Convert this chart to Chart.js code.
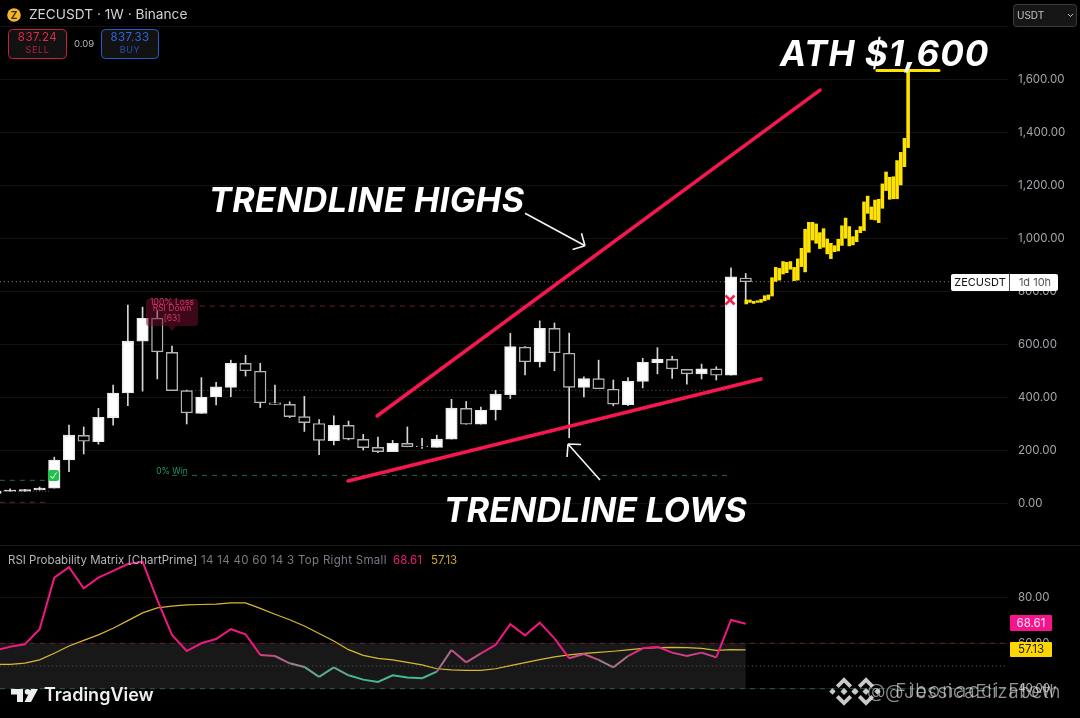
<!DOCTYPE html>
<html>
<head>
<meta charset="utf-8">
<title>ZECUSDT</title>
<script src="https://cdn.jsdelivr.net/npm/chart.js@4"></script>
<style>
  html, body { margin: 0; padding: 0; background: #000; }
  canvas { display: block; }
</style>
</head>
<body>
<canvas id="zecChart" width="1080" height="718"></canvas>
<script>
// weekly candles, first one sits just off the left edge (week -4)
const opens  = [38,47,47,51,58,164,257,233,323,417,613,699,570,426,340,402,438,529,499,380,374,328,302,237,295,242,212,196,227,217,212,243,359,299,353,411,590,534,661,567,438,471,431,373,461,531,544,506,489,508,484,851];
const closes = [47,51,53,58,164,258,235,325,417,613,699,572,426,342,402,440,529,501,380,374,328,305,238,295,243,211,196,227,214,214,243,360,299,352,413,592,535,661,569,438,471,433,375,461,533,545,508,489,508,484,855,837];
const highs  = [47,55,53,62,175,296,289,359,447,749,741,728,594,428,475,457,541,559,529,447,384,404,317,331,311,261,251,238,289,246,258,393,385,364,427,642,592,689,681,643,478,541,466,475,548,588,555,506,526,516,889,868];
const lows   = [36,47,47,51,58,120,187,224,296,369,424,470,426,300,340,372,403,481,362,374,324,272,184,221,240,202,192,196,214,208,212,243,299,299,315,396,485,515,501,248,402,433,369,369,436,489,472,450,470,466,484,755];

// yellow projected path, quarter-week steps
const ghostHighs = [768,768,763,765,770,784,787,852,891,887,913,910,913,891,923,963,1035,1061,1061,1055,1022,1037,998,982,973,997,1048,1077,1045,1007,1031,1045,1138,1160,1119,1145,1148,1206,1251,1231,1233,1294,1325,1378,1628];
const ghostLows  = [753,759,755,759,759,765,770,783,838,843,866,871,884,841,843,894,874,948,994,982,962,967,942,924,950,953,974,1001,972,976,988,1022,1030,1095,1072,1070,1060,1114,1181,1148,1150,1150,1202,1271,1343];

const rsiValues = [56.9,58.5,59.6,66.2,88.9,93.5,84.2,88.9,91.9,94.9,96.0,79.1,63.7,56.6,60.0,61.9,66.2,64.0,54.9,54.4,51.2,49.6,45.2,49.4,45.9,44.0,43.0,45.9,44.9,44.6,47.5,57.1,51.6,55.6,59.3,68.4,63.5,69.1,62.2,53.4,55.3,52.7,49.4,54.4,57.8,58.5,55.9,54.4,55.9,53.8,70.3,68.61];
const rsiAverage = [50.7,50.7,51.3,52.7,55.6,58.8,61.3,63.7,66.6,70.0,73.4,75.6,76.4,76.9,77.1,77.3,77.8,77.8,75.4,72.8,70.4,67.6,64.3,61.0,57.2,54.7,53.4,52.7,51.6,50.5,48.8,48.3,48.1,48.1,48.8,50.2,51.5,52.8,54.0,54.9,55.6,56.0,56.5,57.1,57.8,58.1,58.2,58.1,57.8,56.9,57.2,57.13];

const priceTicks = [0,200,400,600,800,1000,1200,1400,1600,1800];
const rsiTicks = [40,60,80];

const weeks = opens.map((_, i) => i - 4);
const ghostWeeks = ghostHighs.map((_, i) => 47.04 + i / 4);

const highsTrend = [[21.94,330],[52.05,1560]];
const lowsTrend  = [[19.97,85],[48.04,470]];
const athLine    = [[55.92,1634],[60.14,1634]];

const lastPrice = 837;
const RED_DASH = '#6e1d38', GREEN_DASH = '#1f6650', DOTTED = '#5c5c5c';
const PINK = [240,24,128], GREY = [140,140,140], GREEN = [72,184,146];

const fmt = v => v.toLocaleString('en-US', { minimumFractionDigits: 2, maximumFractionDigits: 2 });
const xy = (xs, ys) => xs.map((x, i) => ({ x: x, y: ys[i] }));
const pairs = list => list.map(p => ({ x: p[0], y: p[1] }));

function mix(a, b, t) {
  return 'rgb(' + a.map((c, i) => Math.round(c + (b[i] - c) * t)).join(',') + ')';
}
function rsiColor(v) {
  if (v >= 58) return mix(PINK, PINK, 0);
  if (v >= 50) return mix(GREY, PINK, (v - 50) / 8);
  if (v >= 46) return mix(GREEN, GREY, (v - 46) / 4);
  return mix(GREEN, GREEN, 0);
}

function level(x0, x1, y, color, dash, axis) {
  return {
    type: 'line', data: [{ x: x0, y: y }, { x: x1, y: y }], yAxisID: axis || 'yPrice',
    borderColor: color, borderWidth: 1, borderDash: dash, pointRadius: 0, order: 6
  };
}
function thickLine(list, color, width, order) {
  return {
    type: 'line', data: pairs(list), yAxisID: 'yPrice', borderColor: color,
    borderWidth: width, borderCapStyle: 'round', pointRadius: 0, order: order
  };
}

const datasets = [
  level(-3.7, 61.1, lastPrice, '#8a8a8a', [1, 3]),
  level(9.9, 45.9, 745, RED_DASH, [5, 5]),
  level(8, 45.8, 106, GREEN_DASH, [5, 5]),
  level(8.5, 45.9, 427, DOTTED, [1, 3]),
  level(-3.7, -0.3, 4.5, RED_DASH, [5, 5]),
  level(-3.7, -0.3, 87.5, GREEN_DASH, [5, 5]),
  level(-3.7, -0.3, 46, DOTTED, [1, 2]),
  level(-3.7, 64.83, 60, RED_DASH, [5, 5], 'yRsi'),
  level(-3.7, 64.83, 50, DOTTED, [1, 3], 'yRsi'),
  level(-3.7, 64.83, 40, GREEN_DASH, [5, 5], 'yRsi'),
  {
    // wicks
    type: 'bar', yAxisID: 'yPrice', grouped: false, barThickness: 1, order: 5,
    data: weeks.map((w, i) => ({ x: w, y: [lows[i], highs[i]] })),
    backgroundColor: '#d6d6d6'
  },
  {
    // bodies, white when up and hollow when down
    type: 'bar', yAxisID: 'yPrice', grouped: false, barThickness: 11.5, order: 4,
    data: weeks.map((w, i) => ({ x: w, y: [Math.min(opens[i], closes[i]), Math.max(opens[i], closes[i])] })),
    backgroundColor: weeks.map((_, i) => closes[i] >= opens[i] ? '#ffffff' : '#000000'),
    borderColor: weeks.map((_, i) => closes[i] >= opens[i] ? '#e8e8e8' : '#b4b4b4'),
    borderWidth: 1.4, borderSkipped: false
  },
  {
    type: 'bar', yAxisID: 'yPrice', grouped: false, barThickness: 2.9, order: 3,
    data: ghostWeeks.map((w, i) => ({ x: w, y: [ghostLows[i], ghostHighs[i]] })),
    backgroundColor: '#ffe300'
  },
  thickLine(highsTrend, '#f5174f', 3.6, 2),
  thickLine(lowsTrend, '#f5174f', 3.6, 2),
  thickLine(athLine, '#ffe300', 3, 2),
  {
    type: 'line', data: xy(weeks, rsiAverage), yAxisID: 'yRsi', borderColor: '#d8b830',
    borderWidth: 1.2, pointRadius: 0, order: 2
  },
  {
    type: 'line', data: xy(weeks, rsiValues), yAxisID: 'yRsi', borderColor: mix(PINK, PINK, 0),
    borderWidth: 2, pointRadius: 0, order: 1,
    segment: { borderColor: c => rsiColor((c.p0.parsed.y + c.p1.parsed.y) / 2) }
  }
];

function text(ctx, str, x, y, font, color, align, spacing) {
  ctx.font = font;
  ctx.fillStyle = color;
  ctx.textAlign = align || 'left';
  ctx.textBaseline = 'middle';
  ctx.letterSpacing = spacing || '0px';
  ctx.fillText(str, x, y);
  ctx.letterSpacing = '0px';
}
function roundBox(ctx, x, y, w, h, r, fill, stroke) {
  ctx.beginPath();
  ctx.roundRect(x, y, w, h, r);
  if (fill) { ctx.fillStyle = fill; ctx.fill(); }
  if (stroke) { ctx.strokeStyle = stroke; ctx.lineWidth = 1; ctx.stroke(); }
}
function arrow(ctx, tailX, tailY, tipX, tipY) {
  const a = Math.atan2(tailY - tipY, tailX - tipX);
  ctx.strokeStyle = '#f4f4f4';
  ctx.lineWidth = 1.6;
  ctx.beginPath();
  ctx.moveTo(tailX, tailY);
  ctx.lineTo(tipX, tipY);
  [-0.8, 0.8].forEach(d => {
    ctx.moveTo(tipX + 13 * Math.cos(a + d), tipY + 13 * Math.sin(a + d));
    ctx.lineTo(tipX, tipY);
  });
  ctx.stroke();
}
function binanceMark(ctx, cx, cy, s) {
  const diamond = (x, y, r) => {
    ctx.moveTo(x, y - r); ctx.lineTo(x + r, y); ctx.lineTo(x, y + r); ctx.lineTo(x - r, y); ctx.closePath();
  };
  ctx.fillStyle = '#c9c9c9';
  ctx.beginPath();
  diamond(cx, cy, s * 0.22);
  diamond(cx - s * 0.72, cy, s * 0.2);
  diamond(cx + s * 0.72, cy, s * 0.2);
  ctx.fill();
  ctx.strokeStyle = '#c9c9c9';
  ctx.lineWidth = s * 0.24;
  ctx.beginPath();
  ctx.moveTo(cx - s * 0.42, cy - s * 0.3); ctx.lineTo(cx, cy - s * 0.72); ctx.lineTo(cx + s * 0.42, cy - s * 0.3);
  ctx.moveTo(cx - s * 0.42, cy + s * 0.3); ctx.lineTo(cx, cy + s * 0.72); ctx.lineTo(cx + s * 0.42, cy + s * 0.3);
  ctx.stroke();
}

// band behind the RSI, and everything TradingView paints over the plot
const overlay = {
  id: 'overlay',
  beforeDatasetsDraw(chart) {
    const { ctx, scales } = chart;
    const top = scales.yRsi.getPixelForValue(60), bottom = scales.yRsi.getPixelForValue(40);
    ctx.fillStyle = '#181818';
    ctx.fillRect(0, top, scales.x.getPixelForValue(47), bottom - top);
    ctx.fillStyle = '#1c1c1c';
    ctx.fillRect(0, 545, 1080, 1);
  },
  afterDraw(chart) {
    const { ctx } = chart;
    ctx.save();
    const UI = 'Inter, sans-serif';

    // header
    ctx.beginPath(); ctx.arc(14, 15, 6.8, 0, Math.PI * 2); ctx.fillStyle = '#f4b728'; ctx.fill();
    text(ctx, 'Z', 14, 15.5, 'bold 10px ' + UI, '#3a2a00', 'center');
    text(ctx, 'ZECUSDT · 1W · Binance', 29, 15, '13.7px ' + UI, '#cfd1d6');
    roundBox(ctx, 8.5, 29.5, 58, 29, 4, '#121212', '#c8213f');
    text(ctx, '837.24', 37.5, 38, '11.5px ' + UI, '#e5264d', 'center', '0.4px');
    text(ctx, 'SELL', 37.5, 50.5, '9px ' + UI, '#b02140', 'center', '0.6px');
    text(ctx, '0.09', 84, 44, '9.5px ' + UI, '#b8b8b8', 'center');
    roundBox(ctx, 101.5, 29.5, 57, 29, 4, '#121212', '#2a5cc8');
    text(ctx, '837.33', 130, 38, '11.5px ' + UI, '#2f66e0', 'center', '0.4px');
    text(ctx, 'BUY', 130, 50.5, '9px ' + UI, '#2450b0', 'center', '0.6px');
    roundBox(ctx, 1013.5, 4.5, 63, 22, 3, '#161616', '#3c3c3c');
    text(ctx, 'USDT', 1017, 15.5, '10px ' + UI, '#c4c4c4');
    ctx.strokeStyle = '#c4c4c4'; ctx.lineWidth = 1;
    ctx.beginPath(); ctx.moveTo(1068, 14); ctx.lineTo(1070.5, 16.5); ctx.lineTo(1073, 14); ctx.stroke();

    // big annotations
    const BIG = 'italic bold 34px Inter, sans-serif';
    text(ctx, 'TRENDLINE HIGHS', 209, 201.5, BIG, '#ffffff', 'left', '0.5px');
    text(ctx, 'TRENDLINE LOWS', 444, 511.5, BIG, '#ffffff', 'left', '0.15px');
    text(ctx, 'ATH $1,600', 780, 55, 'italic bold 35px Inter, sans-serif', '#ffffff', 'left', '1px');
    arrow(ctx, 525, 213.3, 585, 245.7);
    arrow(ctx, 600, 480, 568, 444);

    // strategy labels
    roundBox(ctx, 146, 299, 52, 27, 3, 'rgba(120,15,50,0.5)');
    ctx.fillStyle = 'rgba(120,15,50,0.5)';
    ctx.beginPath(); ctx.moveTo(168, 326); ctx.lineTo(176, 326); ctx.lineTo(172, 331); ctx.fill();
    text(ctx, '100% Loss', 172, 302, '8.5px ' + UI, '#d9356f', 'center');
    text(ctx, 'RSI Down', 172, 308, '8.5px ' + UI, '#d9356f', 'center');
    text(ctx, '[63]', 172, 318, '8.5px ' + UI, '#d9356f', 'center');
    text(ctx, '0% Win', 172, 471, '8.5px ' + UI, '#1f9d72', 'center');

    roundBox(ctx, 48, 470, 11, 11, 2.5, '#1fc24a');
    ctx.strokeStyle = '#ffffff'; ctx.lineWidth = 1;
    ctx.beginPath(); ctx.moveTo(50.5, 476); ctx.lineTo(52.5, 478.5); ctx.lineTo(56.5, 472.5); ctx.stroke();
    ctx.strokeStyle = '#ee2450'; ctx.lineWidth = 2.6;
    ctx.beginPath(); ctx.moveTo(725.5, 295.5); ctx.lineTo(734.5, 304.5); ctx.moveTo(734.5, 295.5); ctx.lineTo(725.5, 304.5); ctx.stroke();

    // price tag
    roundBox(ctx, 951, 274, 107, 17, 2, '#ffffff');
    ctx.fillStyle = '#444'; ctx.fillRect(1009, 274, 1, 17);
    text(ctx, 'ZECUSDT', 980, 282.5, '11px ' + UI, '#111111', 'center');
    text(ctx, '1d 10h', 1035, 282.5, '11px ' + UI, '#555555', 'center');

    // RSI legend and tags
    text(ctx, 'RSI Probability Matrix [ChartPrime]', 8, 560.5, '11.5px ' + UI, '#b4b6bc');
    text(ctx, '14 14 40 60 14 3 Top Right Small', 201, 560.5, '11.5px ' + UI, '#787b86', 'left', '0.3px');
    text(ctx, '68.61', 393, 560.5, '11.5px ' + UI, '#e81f78');
    text(ctx, '57.13', 431, 560.5, '11.5px ' + UI, '#c9a82a');
    roundBox(ctx, 1010, 615, 42, 16, 1, '#f5148c');
    text(ctx, '68.61', 1031, 623.5, '11.5px ' + UI, '#ffe6f2', 'center');
    roundBox(ctx, 1010, 642, 42, 15, 1, '#ffd600');
    text(ctx, '57.13', 1031, 649.5, '11.5px ' + UI, '#222222', 'center');

    // TradingView mark
    ctx.fillStyle = '#eeeeee';
    ctx.fillRect(11, 689, 12, 5.5);
    ctx.fillRect(17, 689, 6, 13);
    ctx.beginPath(); ctx.arc(27.5, 691.7, 2.8, 0, Math.PI * 2); ctx.fill();
    ctx.beginPath(); ctx.moveTo(31, 689); ctx.lineTo(38, 689); ctx.lineTo(31, 702); ctx.lineTo(24.5, 702); ctx.fill();
    text(ctx, 'TradingView', 44, 696, '600 18px ' + UI, '#eeeeee');

    // Binance Square watermarks, two handles stacked on each other
    binanceMark(ctx, 844, 691.5, 16);
    binanceMark(ctx, 866, 691.5, 16);
    text(ctx, '@JessicaElizabeth', 885, 692, '300 19px ' + UI, 'rgba(225,225,225,0.65)', 'left', '0.6px');
    text(ctx, '@ Fibonacci Flow', 867, 691, '300 19px ' + UI, 'rgba(225,225,225,0.65)', 'left', '2.2px');
    ctx.restore();
  }
};

// tick labels would otherwise pull the two panes in from the canvas edges
const fitAxis = s => {
  s.width = 72;
  s.paddingTop = 0;
  s.paddingBottom = 0;
};

new Chart(document.getElementById('zecChart'), {
  data: { datasets: datasets },
  plugins: [overlay],
  options: {
    responsive: false,
    animation: false,
    events: [],
    layout: { padding: 0 },
    plugins: { legend: { display: false }, tooltip: { enabled: false } },
    scales: {
      x: { type: 'linear', display: false, offset: false, min: -3.691, max: 64.83 },
      yPrice: {
        type: 'linear', position: 'right', stack: 'panes', stackWeight: 545,
        min: -156.6, max: 1900,
        afterBuildTicks: s => { s.ticks = priceTicks.map(v => ({ value: v })); },
        afterFit: fitAxis,
        border: { display: false },
        grid: { color: '#121212', drawTicks: false },
        ticks: {
          padding: 10, color: '#a3a5ab', font: { family: 'Inter', size: 11.5 },
          callback: v => v > 1700 ? '' : fmt(v)
        }
      },
      yRsi: {
        type: 'linear', position: 'right', stack: 'panes', stackWeight: 173,
        min: 27.1, max: 103.3,
        afterBuildTicks: s => { s.ticks = rsiTicks.map(v => ({ value: v })); },
        afterFit: fitAxis,
        border: { display: false },
        grid: { color: '#121212', drawTicks: false },
        ticks: {
          padding: 10, color: '#a3a5ab', font: { family: 'Inter', size: 11.5 },
          callback: v => fmt(v)
        }
      }
    }
  }
});
</script>
</body>
</html>
